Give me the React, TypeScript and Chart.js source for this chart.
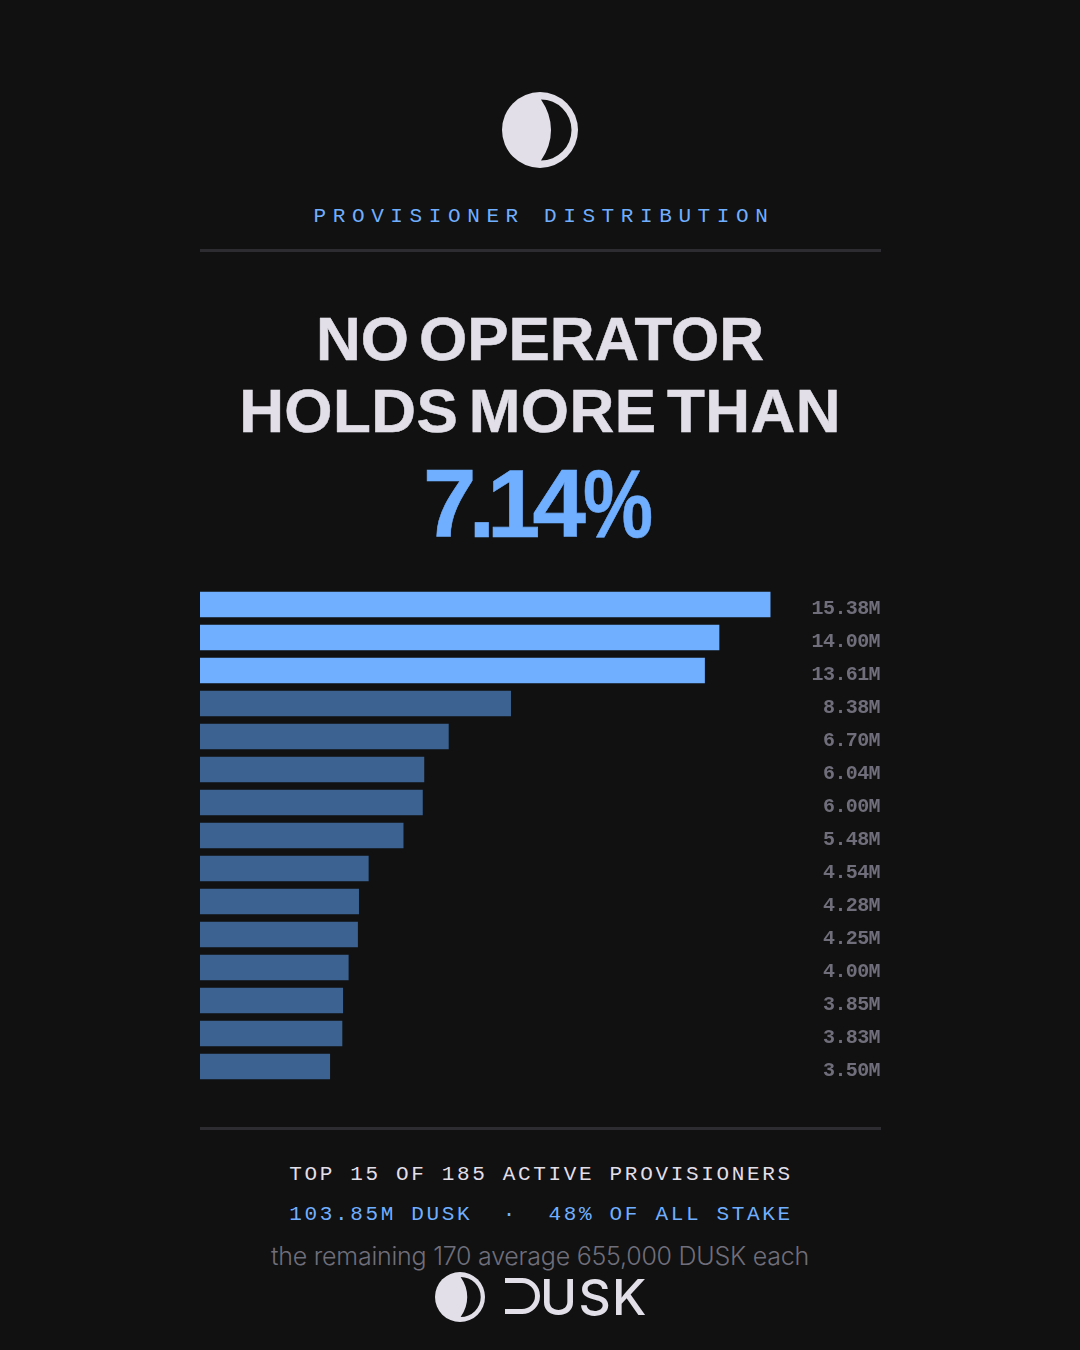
import React, { useEffect, useRef } from "react";
import { Chart, registerables } from "chart.js";

Chart.register(...registerables);

const operators = ["1","2","3","4","5","6","7","8","9","10","11","12","13","14","15"];
const stakeM = [15.38,14.0,13.61,8.38,6.7,6.04,6.0,5.48,4.54,4.28,4.25,4.0,3.85,3.83,3.5];
const valueLabels = ["15.38M","14.00M","13.61M","8.38M","6.70M","6.04M","6.00M","5.48M","4.54M","4.28M","4.25M","4.00M","3.85M","3.83M","3.50M"];
const highlightCount = 3;

const BG = "#111111";
const BLUE = "#70afff";
const DIM = "#3b6290";
const INK = "#e2dfe9";
const GREY = "#6f6e7a";
const MONO = '"Liberation Mono", monospace';
const SANS = 'Inter, sans-serif';
const HEAD = '"Liberation Sans", sans-serif';

const labelPlugin = {
  id: "valueLabels",
  afterDatasetsDraw(chart: any) {
    const { ctx, chartArea, scales } = chart;
    ctx.save();
    ctx.font = `bold 20px ${MONO}`;
    ctx.letterSpacing = "-0.6px";
    ctx.fillStyle = GREY;
    ctx.textAlign = "right";
    ctx.textBaseline = "middle";
    valueLabels.forEach((t, i) => {
      ctx.fillText(t, chartArea.right - 1, scales.y.getPixelForValue(i) + 4);
    });
    ctx.restore();
  },
};

function Mark({ x, y, size }: { x: number; y: number; size: number }) {
  return (
    <svg style={{ position: "absolute", left: x, top: y }} width={size} height={size} viewBox="0 0 76 76">
      <circle cx="38" cy="38" r="38" fill={INK} />
      <path d="M39 7.5 A30.5 30.5 0 0 1 39 68.5 Q49 54 49 38 Q49 22 39 7.5 Z" fill={BG} />
    </svg>
  );
}

function Line({ top, size, color, font, weight, spacing, dx = 0, text, lh, word, stroke }: any) {
  return (
    <div style={{
      position: "absolute", left: dx, width: 1080, top, textAlign: "center", whiteSpace: "pre",
      fontSize: size, color, fontFamily: font, fontWeight: weight, letterSpacing: spacing, wordSpacing: word, lineHeight: `${lh}px`,
      WebkitTextStroke: stroke,
    }}>{text}</div>
  );
}

export default function App() {
  const ref = useRef<HTMLCanvasElement>(null);
  useEffect(() => {
    document.body.style.margin = "0";
    document.body.style.background = BG;
    const chart = new Chart(ref.current!, {
      type: "bar",
      data: {
        labels: operators,
        datasets: [{
          data: stakeM,
          backgroundColor: stakeM.map((_, i) => (i < highlightCount ? BLUE : DIM)),
          barThickness: 25,
          borderWidth: 0,
        }],
      },
      options: {
        indexAxis: "y",
        animation: false,
        responsive: false,
        devicePixelRatio: 1,
        layout: { padding: 0 },
        plugins: { legend: { display: false }, tooltip: { enabled: false } },
        scales: {
          x: { display: false, min: 0, max: 18.37 },
          y: { display: false },
        },
      },
      plugins: [labelPlugin],
    } as any);
    return () => chart.destroy();
  }, []);

  return (
    <div style={{ position: "relative", width: 1080, height: 1350, background: BG, overflow: "hidden" }}>
      <Mark x={502} y={92} size={76} />
      <Line top={203} lh={28} size={21} color={BLUE} font={MONO} spacing="6.6px" dx={4} text="PROVISIONER DISTRIBUTION" />
      <div style={{ position: "absolute", left: 200, top: 249, width: 681, height: 3, background: "#2d2d31" }} />
      <Line top={303} lh={72} size={62} color={INK} font={HEAD} weight={700} spacing="-0.1px" word="-7px" stroke="0.5px" text="NO OPERATOR" />
      <Line top={375} lh={72} size={62} color={INK} font={HEAD} weight={700} spacing="0.4px" word="-7px" stroke="0.5px" text="HOLDS MORE THAN" />
      <div style={{ position: "absolute", left: 423, top: 450, lineHeight: "108px", fontSize: 96, fontFamily: HEAD, fontWeight: 700, color: BLUE, letterSpacing: "-8px", whiteSpace: "pre", WebkitTextStroke: "0.6px" }}>
        7.14<span style={{ display: "inline-block", marginLeft: 5, transform: "scaleX(0.82)", transformOrigin: "left center", letterSpacing: 0 }}>%</span>
      </div>
      <canvas ref={ref} width={681} height={495} style={{ position: "absolute", left: 200, top: 588, width: 681, height: 495 }} />
      <div style={{ position: "absolute", left: 200, top: 1127, width: 681, height: 3, background: "#2d2d31" }} />
      <Line top={1161} lh={28} size={21} color={INK} font={MONO} spacing="2.65px" dx={1} text="TOP 15 OF 185 ACTIVE PROVISIONERS" />
      <Line top={1201} lh={28} size={21} color={BLUE} font={MONO} spacing="2.65px" dx={1} text={"103.85M DUSK  \u00b7  48% OF ALL STAKE"} />
      <Line top={1240} lh={32} size={25} color={GREY} font={SANS} weight={300} spacing="-0.24px" text="the remaining 170 average 655,000 DUSK each" />
      <Mark x={435} y={1272} size={50} />
      <svg style={{ position: "absolute", left: 500, top: 1270 }} width={42} height={52} viewBox="0 0 42 52">
        <path d="M5 10.5 H22 A15.5 15.5 0 0 1 22 41.5 H5" fill="none" stroke={INK} strokeWidth="5" />
      </svg>
      <div style={{ position: "absolute", left: 540, top: 1266, lineHeight: "62px", fontSize: 50, fontFamily: SANS, fontWeight: 500, color: INK, letterSpacing: "1.4px", whiteSpace: "pre" }}>USK</div>
    </div>
  );
}
